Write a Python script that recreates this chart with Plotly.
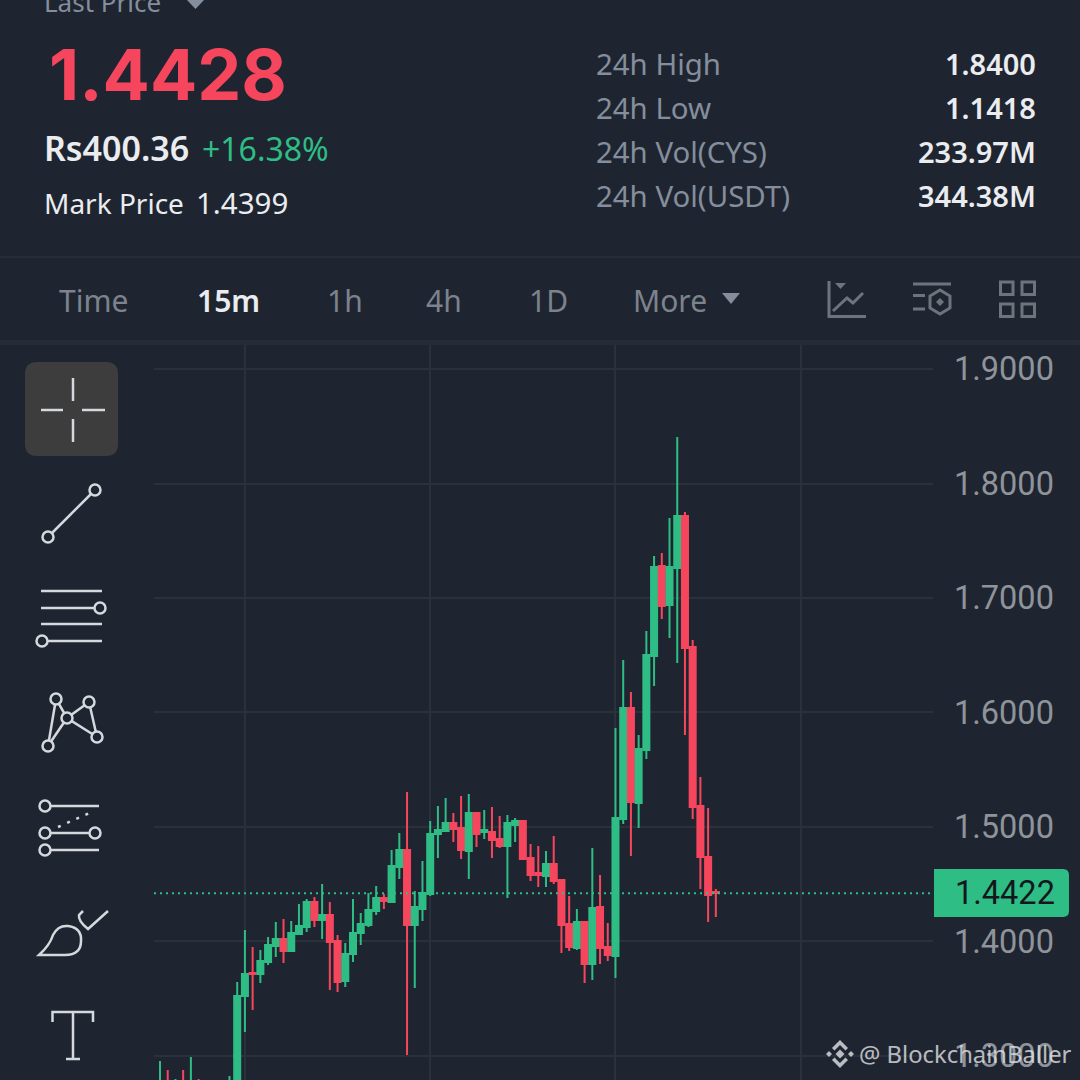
import plotly.graph_objects as go

# candles, oldest first, one every 15m
opens = [1.2500, 1.2700, 1.2600, 1.2720, 1.2620, 1.2750, 1.2650, 1.2600, 1.2550, 1.2700,
         1.2750, 1.3524, 1.3725, 1.3716, 1.3821, 1.3961, 1.4022, 1.3917, 1.4066, 1.4127,
         1.4345, 1.4188, 1.4231, 1.4004, 1.3655, 1.3891, 1.4074, 1.4144, 1.4266, 1.4380,
         1.4345, 1.4651, 1.4799, 1.4144, 1.4284, 1.4415, 1.4939, 1.4965, 1.5035, 1.4991,
         1.4790, 1.5122, 1.4956, 1.4956, 1.4895, 1.4834, 1.5017, 1.5052, 1.4729, 1.4598,
         1.4572, 1.4677, 1.4537, 1.4153, 1.3943, 1.4170, 1.3803, 1.4301, 1.3952, 1.3873,
         1.5070, 1.6039, 1.5210, 1.5672, 1.6493, 1.7279, 1.6939, 1.7262, 1.7716, 1.6572,
         1.5183, 1.4738, 1.4432]
highs = [1.2956, 1.2878, 1.2799, 1.2878, 1.2991, 1.2799, 1.2720, 1.2700, 1.2750, 1.2825,
         1.3646, 1.4100, 1.3952, 1.3926, 1.4039, 1.4170, 1.4197, 1.4179, 1.4328, 1.4371,
         1.4389, 1.4502, 1.4345, 1.4057, 1.3987, 1.4371, 1.4249, 1.4424, 1.4485, 1.4415,
         1.4799, 1.4948, 1.5306, 1.4441, 1.4703, 1.5052, 1.5183, 1.5253, 1.5122, 1.5271,
         1.5288, 1.5131, 1.5148, 1.5175, 1.5096, 1.5105, 1.5079, 1.5052, 1.4852, 1.4834,
         1.4790, 1.4921, 1.4546, 1.4397, 1.4284, 1.4179, 1.4817, 1.4581, 1.4162, 1.5865,
         1.6459, 1.6179, 1.5803, 1.6712, 1.7367, 1.7393, 1.7699, 1.8406, 1.7751, 1.6633,
         1.5437, 1.5166, 1.4459]
lows = [1.2400, 1.2400, 1.2450, 1.2450, 1.2500, 1.2500, 1.2500, 1.2450, 1.2450, 1.2550,
        1.2700, 1.3210, 1.3402, 1.3638, 1.3795, 1.3865, 1.3812, 1.3917, 1.4057, 1.4083,
        1.4127, 1.4022, 1.3576, 1.3559, 1.3603, 1.3821, 1.3969, 1.4127, 1.4231, 1.4284,
        1.4345, 1.4546, 1.3009, 1.3594, 1.4179, 1.4397, 1.4729, 1.4956, 1.4869, 1.4721,
        1.4546, 1.4825, 1.4895, 1.4729, 1.4817, 1.4380, 1.4869, 1.4721, 1.4528, 1.4476,
        1.4476, 1.4502, 1.3900, 1.3917, 1.3926, 1.3638, 1.3664, 1.3803, 1.3830, 1.3681,
        1.5026, 1.4747, 1.4991, 1.5594, 1.6231, 1.6817, 1.6651, 1.6432, 1.5803, 1.5070,
        1.4459, 1.4170, 1.4214]
closes = [1.2700, 1.2600, 1.2720, 1.2620, 1.2750, 1.2650, 1.2600, 1.2550, 1.2700, 1.2750,
          1.3524, 1.3716, 1.3716, 1.3830, 1.3969, 1.4022, 1.3917, 1.4074, 1.4135, 1.4345,
          1.4188, 1.4231, 1.3996, 1.3646, 1.3891, 1.4074, 1.4153, 1.4275, 1.4380, 1.4354,
          1.4659, 1.4799, 1.4144, 1.4301, 1.4424, 1.4939, 1.4974, 1.5035, 1.4983, 1.4799,
          1.5122, 1.4939, 1.4974, 1.4886, 1.4834, 1.5035, 1.5052, 1.4721, 1.4581, 1.4581,
          1.4677, 1.4528, 1.4144, 1.3952, 1.4170, 1.3803, 1.4293, 1.3943, 1.3882, 1.5079,
          1.6039, 1.5218, 1.5681, 1.6502, 1.7271, 1.6930, 1.7271, 1.7716, 1.6563, 1.5175,
          1.4738, 1.4406, 1.4424]

price_ticks = [1.3, 1.4, 1.5, 1.6, 1.7, 1.8, 1.9]
current_price = 1.4422

last_price = '1.4428'
fiat_price = 'Rs400.36'
change_pct = '+16.38%'
mark_price = '1.4399'
stat_labels = ['24h High', '24h Low', '24h Vol(CYS)', '24h Vol(USDT)']
stat_values = ['1.8400', '1.1418', '233.97M', '344.38M']
tab_labels = ['Time', '15m', '1h', '4h', '1D', 'More']

BG = '#1F2530'
GRID = '#2B313B'
GREEN = '#2EBD85'
RED = '#F6465D'
GREY = '#848E9C'
TICK = '#8F949B'
WHITE = '#EAECEF'
ICON = '#D5D8DC'
ICON_DIM = '#6E737C'
SANS = 'Noto Sans'


def pt(x, y):
    return '{:.5f} {:.5f}'.format(x / 1080, 1 - y / 1080)


def path(points, close=False):
    d = 'M' + ' L'.join(pt(x, y) for x, y in points)
    return d + (' Z' if close else '')


shapes = []
annotations = []


def add_path(d, color=ICON, width=2.5, fill=None):
    shapes.append(dict(type='path', path=d, xref='paper', yref='paper',
                       line=dict(color=color, width=width),
                       fillcolor=fill if fill else 'rgba(0,0,0,0)'))


def add_line(points, color=ICON, width=2.5):
    add_path(path(points), color, width)


def add_fill(points, color):
    add_path(path(points, True), color, 0, color)


def add_circle(x, y, r=5.5, color=ICON):
    shapes.append(dict(type='circle', xref='paper', yref='paper',
                       x0=(x - r) / 1080, x1=(x + r) / 1080,
                       y0=1 - (y + r) / 1080, y1=1 - (y - r) / 1080,
                       line=dict(color=color, width=2.5), fillcolor=BG))


def add_text(x, y, text, size, color, weight=400, anchor='left', family=SANS):
    annotations.append(dict(x=x / 1080, y=1 - y / 1080, xref='paper', yref='paper',
                            text=text, showarrow=False, xanchor=anchor, yanchor='middle',
                            borderpad=0, align=anchor,
                            font=dict(family=family, size=size, color=color, weight=weight)))


# header
add_text(43, 2, 'Last Price', 26, GREY)
add_fill([(187, 0), (204, 0), (195.5, 9)], GREY)
add_text(48, 74, last_price, 70, RED, 700, family='Inter')
add_text(43, 148.5, fiat_price, 34, WHITE, 600)
add_text(201, 148.5, change_pct, 32, GREEN)
add_text(43, 202.5, 'Mark Price', 28, WHITE)
add_text(195, 202.5, mark_price, 29.5, WHITE)

for label, value, y in zip(stat_labels, stat_values, [64, 108, 152, 196]):
    add_text(595, y, label, 29.4, GREY)
    add_text(1037, y, value, 29, WHITE, 600, 'right')

add_line([(0, 257), (1080, 257)], GRID, 1.5)

# tabs
for label, x in zip(tab_labels, [58, 195.5, 325.5, 425, 528, 632]):
    selected = label == '15m'
    add_text(x, 300, label, 30, WHITE if selected else '#7D838D', 600 if selected else 400)
add_fill([(722, 293), (740, 293), (731, 304)], GREY)

add_line([(829, 281), (829, 316.5), (866, 316.5)], ICON_DIM, 3)
add_line([(833, 311), (847, 298), (853, 303), (863, 293)], ICON_DIM, 3)
add_fill([(835, 283), (846, 283), (840.5, 289)], ICON_DIM)

add_line([(913, 284), (951, 284)], ICON_DIM, 3)
add_line([(913, 295.5), (925, 295.5)], ICON_DIM, 3)
add_line([(913, 309), (925, 309)], ICON_DIM, 3)
add_path(path([(940, 290), (950, 296), (950, 308), (940, 314), (930, 308), (930, 296)], True),
         ICON_DIM, 3)
add_fill([(940, 298), (944, 302), (940, 306), (936, 302)], ICON_DIM)

for x0, x1 in [(1000.5, 1013), (1022, 1034.5)]:
    for y0, y1 in [(282, 294.5), (304, 316.5)]:
        add_path(path([(x0, y0), (x1, y0), (x1, y1), (x0, y1)], True), ICON_DIM, 3)

add_line([(0, 342.5), (1080, 342.5)], '#262C37', 5)

# drawing tools
add_path('M{} Q{} {} Q{} {} Q{} {} Q{} {} Z'.format(
    pt(37, 362) + ' L' + pt(106, 362), pt(118, 362), pt(118, 374) + ' L' + pt(118, 444),
    pt(118, 456), pt(106, 456) + ' L' + pt(37, 456), pt(25, 456), pt(25, 444) + ' L' + pt(25, 374),
    pt(25, 362), pt(37, 362)), '#3D3D3D', 0, '#3D3D3D')
add_line([(41, 410), (63, 410)])
add_line([(82, 410), (105, 410)])
add_line([(73, 378), (73, 401)])
add_line([(73, 419), (73, 442)])

add_line([(48, 537), (95, 490)])
add_circle(48, 537)
add_circle(95, 490)

for y in [591, 608, 624, 641]:
    add_line([(41, y), (102, y)])
add_circle(100, 608)
add_circle(42, 641)

add_line([(56, 699), (48, 746)])
add_line([(56, 699), (67, 718), (97, 737)])
add_line([(48, 746), (67, 718), (89, 702), (97, 737)])
for x, y in [(56, 699), (89, 702), (67, 718), (48, 746), (97, 737)]:
    add_circle(x, y)

add_line([(45, 806), (99, 806)])
add_line([(45, 833), (95, 833)])
add_line([(45, 850), (99, 850)])
shapes.append(dict(type='line', xref='paper', yref='paper', x0=58 / 1080, y0=1 - 827 / 1080,
                   x1=94 / 1080, y1=1 - 811 / 1080,
                   line=dict(color=ICON, width=2.5, dash='3px,7px')))
for x, y in [(45, 806), (45, 833), (95, 833), (45, 850)]:
    add_circle(x, y)

add_path('M{} Q{} {} Q{} {} Q{} {} Q{} {} Z'.format(
    pt(39, 955), pt(50, 945), pt(53, 935), pt(58, 925), pt(68, 926), pt(82, 928), pt(81, 941),
    pt(81, 955), pt(65, 955)))
add_path('M{} L{} Q{} {} L{}'.format(pt(83, 911), pt(79, 915), pt(78, 921), pt(88, 929),
                                     pt(108, 911)))

add_line([(52.5, 1022), (52.5, 1012), (93, 1012), (93, 1022)])
add_line([(73, 1012), (73, 1059)])
add_line([(66, 1059), (80, 1059)])

# current price tag
add_path('M{} L{} Q{} {} L{} Q{} {} L{} Z'.format(pt(934, 869), pt(1063, 869), pt(1069, 869),
                                                 pt(1069, 875), pt(1069, 911), pt(1069, 917),
                                                 pt(1063, 917), pt(934, 917)), GREEN, 0, GREEN)
annotations.append(dict(x=953 / 1080, y=current_price, xref='paper', yref='y', text=str(current_price),
                        showarrow=False, xanchor='left', yanchor='middle',
                        font=dict(family='Roboto', size=32.5, color='#14171C')))
shapes.append(dict(type='line', xref='x domain', yref='y', x0=0, x1=1,
                   y0=current_price, y1=current_price,
                   line=dict(color=GREEN, width=2, dash='2px,4px')))

# watermark
MARK = 'rgba(225,228,232,0.8)'
add_fill([(840, 1049.5), (844.5, 1054), (840, 1058.5), (835.5, 1054)], MARK)
add_fill([(829, 1051), (832, 1054), (829, 1057), (826, 1054)], MARK)
add_fill([(851, 1051), (854, 1054), (851, 1057), (848, 1054)], MARK)
add_fill([(840, 1040), (848, 1048), (845.5, 1050.5), (840, 1045), (834.5, 1050.5), (832, 1048)], MARK)
add_fill([(840, 1068), (848, 1060), (845.5, 1057.5), (840, 1063), (834.5, 1057.5), (832, 1060)], MARK)
add_text(858, 1054, '@ BlockchainBaller', 23.8, MARK)

candles = go.Candlestick(
    x=list(range(len(opens))),
    open=opens,
    high=highs,
    low=lows,
    close=closes,
    increasing=dict(line=dict(color=GREEN, width=2), fillcolor=GREEN),
    decreasing=dict(line=dict(color=RED, width=2), fillcolor=RED),
    whiskerwidth=0,
    hoverinfo='skip'
)

layout = go.Layout(
    width=1080,
    height=1080,
    margin=dict(l=0, r=0, t=0, b=0),
    paper_bgcolor=BG,
    plot_bgcolor=BG,
    showlegend=False,
    boxgap=0.22,
    boxgroupgap=0,
    xaxis=dict(domain=[154 / 1080, 933 / 1080], range=[-0.777, 100.13], rangeslider=dict(visible=False),
               tick0=11, dtick=24, showgrid=True, gridcolor=GRID, gridwidth=2,
               showticklabels=False, zeroline=False, ticks=''),
    yaxis=dict(domain=[0, 738 / 1080], range=[1.279, 1.9236], side='right', tickvals=price_ticks,
               tickformat='.4f', showgrid=True, gridcolor=GRID, gridwidth=2, zeroline=False,
               ticks='', ticklabelstandoff=20,
               tickfont=dict(family='Roboto', size=32.5, color=TICK)),
    shapes=shapes,
    annotations=annotations,
)

fig = go.Figure(data=[candles], layout=layout)
fig.write_html("out.html", config={'displayModeBar': False},
               post_script="document.body.style.margin='0'")
